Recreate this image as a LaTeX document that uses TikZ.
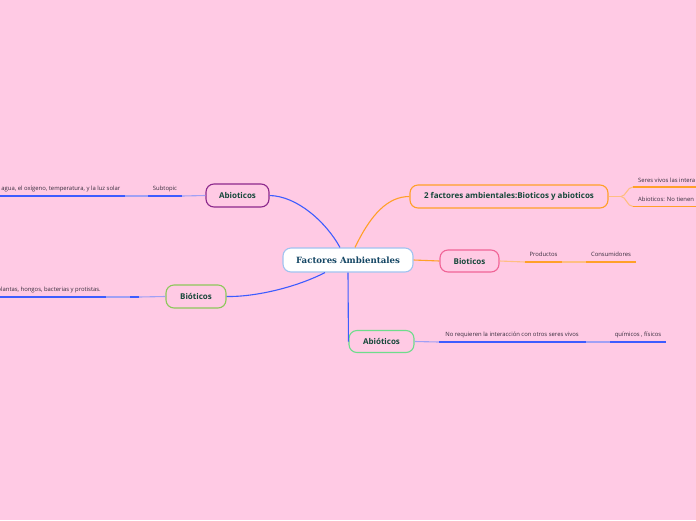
\documentclass[tikz,border=0pt]{standalone}
\usepackage{fontspec}
\setmainfont{Open Sans}
\newfontfamily\slabfont{DejaVu Serif}
\definecolor{bgpink}{RGB}{255,202,228}
\definecolor{mblue}{RGB}{61,92,255}
\definecolor{lblue}{RGB}{160,160,245}
\definecolor{morange}{RGB}{255,160,40}
\definecolor{lorange}{RGB}{255,190,130}
\definecolor{tgreen}{RGB}{22,72,58}
\definecolor{tdark}{RGB}{55,45,60}
\definecolor{cteal}{RGB}{20,70,100}
\definecolor{cborder}{RGB}{160,195,240}
\definecolor{purp}{RGB}{140,40,140}
\definecolor{grn1}{RGB}{140,200,90}
\definecolor{grn2}{RGB}{110,220,140}
\definecolor{pinkb}{RGB}{240,100,150}
\tikzset{
  topic/.style={draw, line width=1.1pt, rounded corners=8pt, inner sep=0pt, anchor=center,
    font=\fontsize{8}{9}\selectfont\bfseries, text=tgreen},
  small/.style={font=\fontsize{5.9}{7}\selectfont, text=tdark, inner sep=0pt},
  ulb/.style={draw=mblue, line width=1.8pt},
  ulo/.style={draw=morange, line width=1.8pt},
  lb/.style={draw=lblue, line width=1.1pt},
  lo/.style={draw=lorange, line width=1.1pt},
  cb/.style={draw=mblue, line width=1.1pt},
  co/.style={draw=morange, line width=1.1pt}
}
\begin{document}
\begin{tikzpicture}[x=1pt,y=-1pt]
\useasboundingbox (0,0) rectangle (696,520);
\fill[bgpink] (0,0) rectangle (696,520);
\clip (0,0) rectangle (696,520);

% topics
\node[topic, draw=cborder, fill=white, minimum width=130pt, minimum height=24pt,
  font=\slabfont\fontsize{8.6}{10}\selectfont\bfseries, text=cteal] (C) at (348,260) {Factores Ambientales};
\node[topic, draw=purp, minimum width=63pt, minimum height=23pt] (A) at (237.5,195.5) {Abioticos};
\node[topic, draw=grn1, minimum width=60pt, minimum height=23pt] (B) at (196,296.5) {Bióticos};
\node[topic, draw=morange, minimum width=198pt, minimum height=23pt] (F) at (509,196.5) {2 factores ambientales:Bioticos y abioticos};
\node[topic, draw=pinkb, minimum width=59pt, minimum height=22pt] (BT) at (469.5,261) {Bioticos};
\node[topic, draw=grn2, minimum width=65pt, minimum height=22pt] (AB) at (381.5,341.5) {Abióticos};

% main connectors
\draw[cb] ([xshift=-8pt]C.north) .. controls (326,222) and (297,196) .. (A.east);
\draw[cb] ([xshift=-23pt]C.south) .. controls (297,287) and (256,297) .. (B.east);
\draw[co] ([xshift=7pt]C.north) .. controls (371,214) and (388,196.5) .. (F.west);
\draw[co] (C.east) -- (BT.west);
\draw[cb] (C.south) -- (AB.west);

% left: Abioticos branch
\coordinate (a1) at (182,196);
\coordinate (a2) at (148,196);
\coordinate (a3) at (125,196);
\coordinate (a4) at (-3,196);
\draw[lb] (A.west) -- (a1);
\draw[ulb] (a1) -- (a2);
\draw[lb] (a2) -- (a3);
\draw[ulb] (a3) -- (a4);
\node[small, anchor=base] (ta1) at (165,190.5) {Subtopic};
\node[small, anchor=base east] (ta2) at (120.5,190.5) {agua, el oxígeno, temperatura, y la luz solar};

% left: Bióticos branch
\coordinate (b1) at (139,297);
\coordinate (b2) at (130,297);
\coordinate (b3) at (106,297);
\coordinate (b4) at (-3,297);
\draw[lb] (B.west) -- (b1);
\draw[ulb] (b1) -- (b2);
\draw[lb] (b2) -- (b3);
\draw[ulb] (b3) -- (b4);
\node[small, anchor=base east] (tb1) at (101,291.5) {plantas, hongos, bacterias y protistas.};

% right: Bioticos branch
\coordinate (p1) at (525,262);
\coordinate (p2) at (562,262);
\coordinate (p3) at (586,262);
\coordinate (p4) at (636,262);
\draw[lo] (BT.east) -- (p1);
\draw[ulo] (p1) -- (p2);
\draw[lo] (p2) -- (p3);
\draw[ulo] (p3) -- (p4);
\node[small, anchor=base] (tp1) at (543.5,256.5) {Productos};
\node[small, anchor=base] (tp2) at (611,256.5) {Consumidores};

% right: Abióticos branch
\coordinate (q1) at (439,342);
\coordinate (q2) at (586,342);
\coordinate (q3) at (610,342);
\coordinate (q4) at (666,342);
\draw[lb] (AB.east) -- (q1);
\draw[ulb] (q1) -- (q2);
\draw[lb] (q2) -- (q3);
\draw[ulb] (q3) -- (q4);
\node[small, anchor=base] (tq1) at (512,336.5) {No requieren la interacción con otros seres vivos};
\node[small, anchor=base] (tq2) at (638,336.5) {químicos , físicos};

% right: 2 factores branch
\coordinate (f0) at (621,196.5);
\coordinate (f1) at (633,187);
\coordinate (f2) at (633,206.5);
\coordinate (f3) at (700,187);
\coordinate (f4) at (700,206.5);
\draw[lo] (F.east) -- (f0);
\draw[lo] (f0) .. controls (626,196.5) and (627,187) .. (f1);
\draw[lo] (f0) .. controls (626,196.5) and (627,206.5) .. (f2);
\draw[ulo] (f1) -- (f3);
\draw[ulo] (f2) -- (f4);
\node[small, anchor=base west] (tf1) at (638,182) {Seres vivos las intera};
\node[small, anchor=base west] (tf2) at (638,201.5) {Abioticos: No tienen};
\end{tikzpicture}
\end{document}
